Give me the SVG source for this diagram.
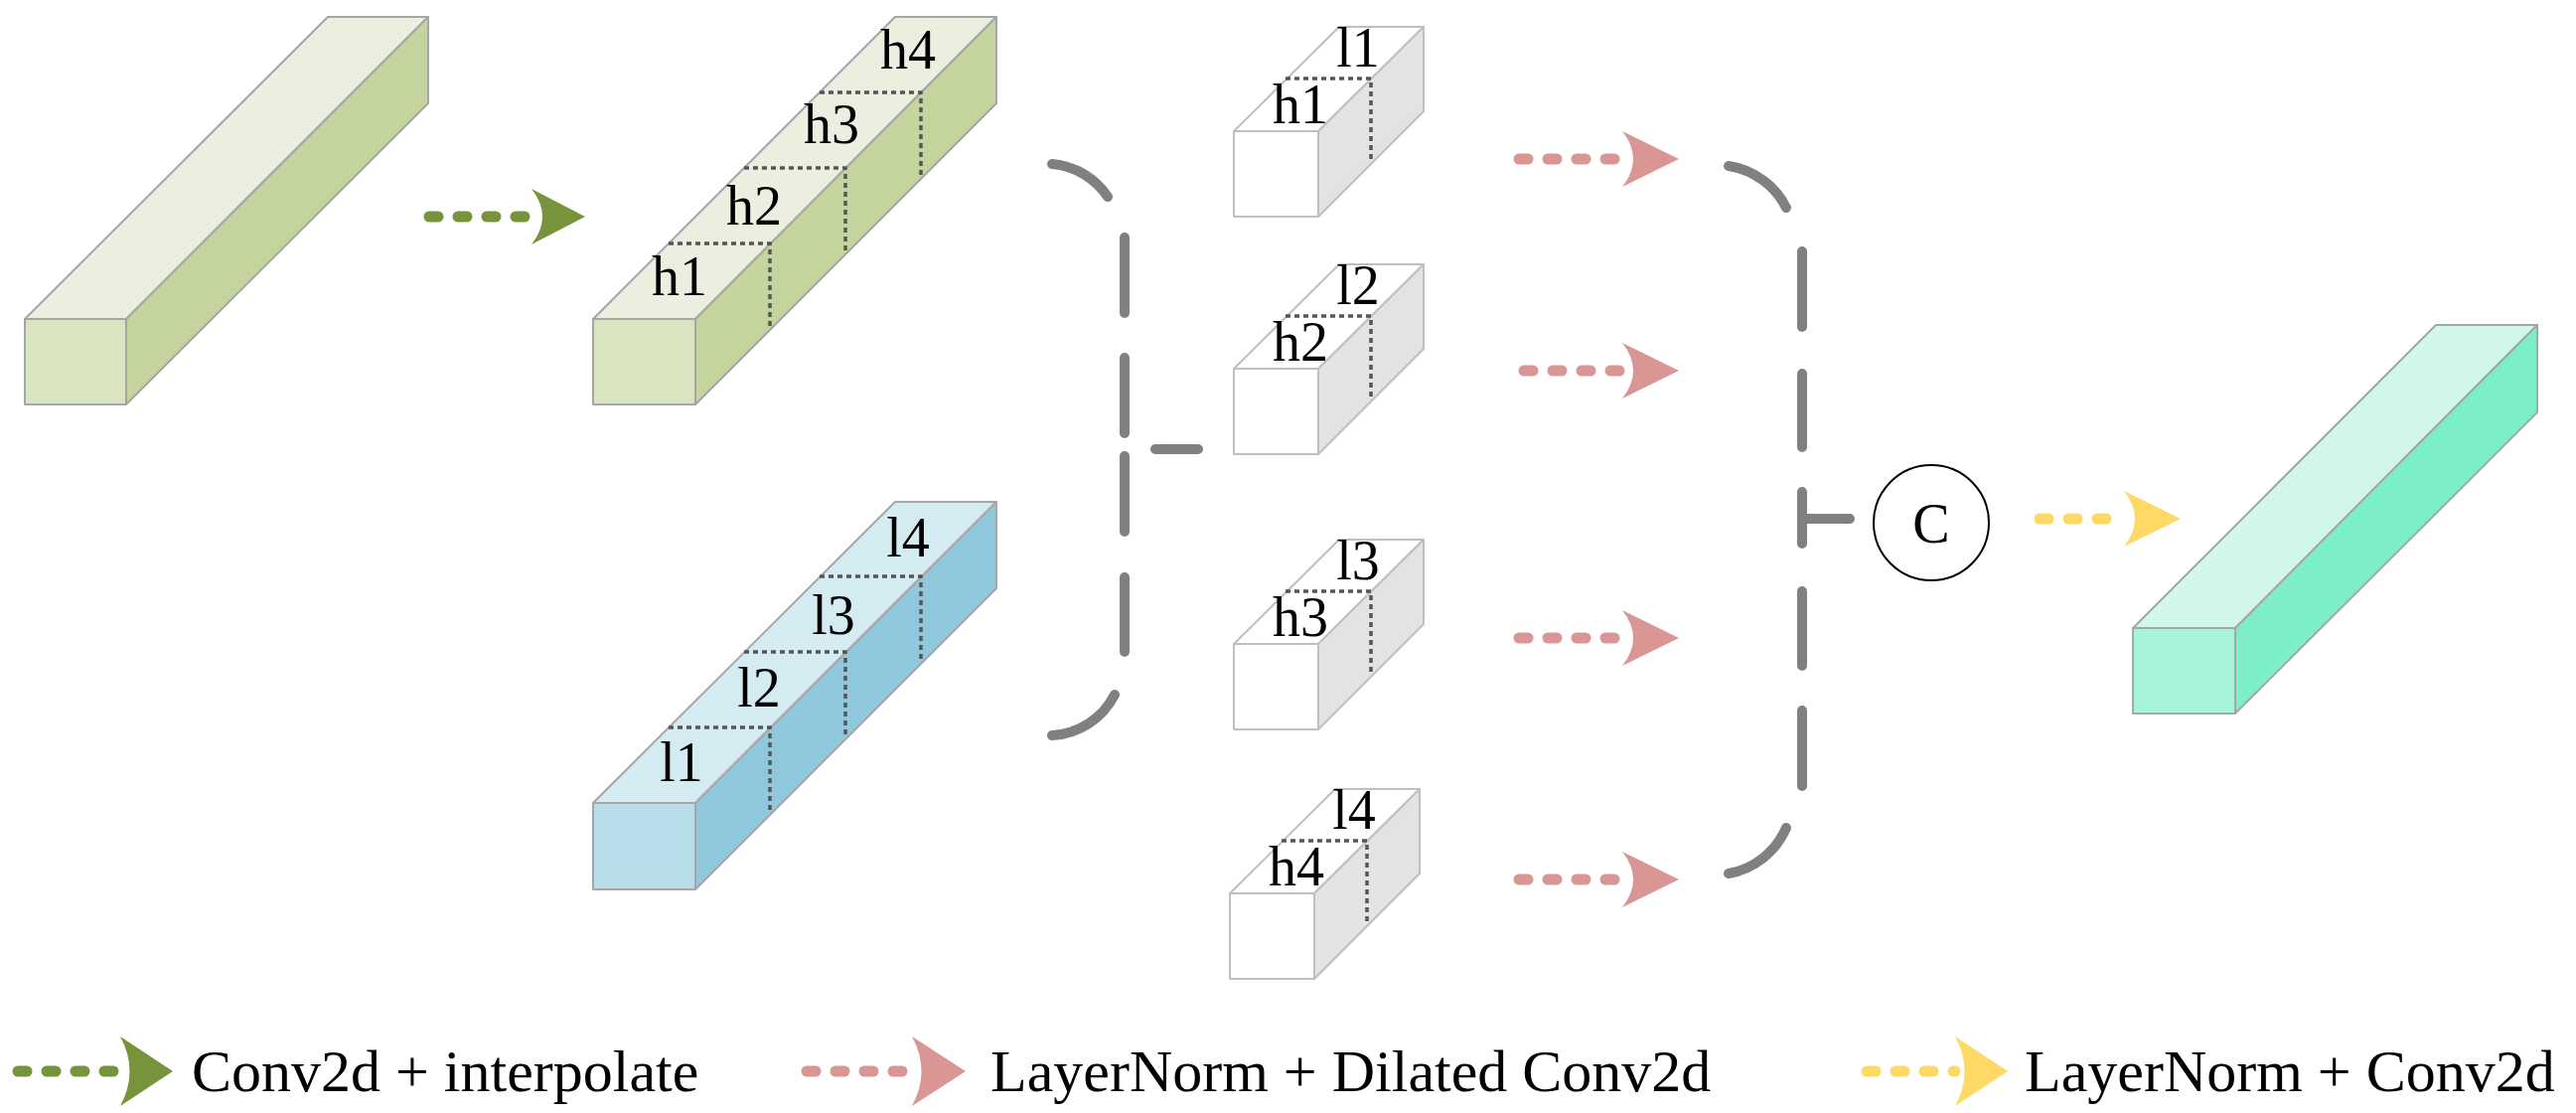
<svg xmlns="http://www.w3.org/2000/svg" width="2593" height="1120" viewBox="0 0 2593 1120">
<style>
.e{stroke:#a6a6a6;stroke-width:2;stroke-linejoin:round}
.c{stroke:#bfbfbf;stroke-width:2;stroke-linejoin:round}
.dv{stroke:#555;stroke-width:3.5;stroke-dasharray:5 4;fill:none}
.t{font-family:"Liberation Serif",serif;font-size:56px;fill:#000;text-anchor:middle}
.lg{font-family:"Liberation Serif",serif;font-size:60px;fill:#000}
.br{stroke:#808080;stroke-width:10;stroke-linecap:round;fill:none}
.dots{stroke-width:11;stroke-linecap:round;stroke-dasharray:9 20;fill:none}
</style>
<rect width="2593" height="1120" fill="#fff"/>
<g id="bar1">
<polygon class="e" fill="#ebefdf" points="25,321 127,321 431,17 330,17"/>
<polygon class="e" fill="#c3d49c" points="127,321 431,17 431,104 127,407"/>
<rect class="e" fill="#d9e4c0" x="25" y="321" width="102" height="86"/>
</g>
<g id="bar-h">
<polygon class="e" fill="#ebefdf" points="597,321 700,321 1003,17 901,17"/>
<polygon class="e" fill="#c3d49c" points="700,321 1003,17 1003,104 700,407"/>
<rect class="e" fill="#d9e4c0" x="597" y="321" width="103" height="86"/>
<path class="dv" d="M673,245H775V332M749,169H851V256M825,93H927V180"/>
<text class="t" x="684" y="297">h1</text>
<text class="t" x="759" y="226">h2</text>
<text class="t" x="837" y="144">h3</text>
<text class="t" x="914" y="69">h4</text>
</g>
<g id="bar-l">
<polygon class="e" fill="#d5ebf2" points="597,808 700,808 1003,505 901,505"/>
<polygon class="e" fill="#8fc8dc" points="700,808 1003,505 1003,592 700,895"/>
<rect class="e" fill="#b7dde8" x="597" y="808" width="103" height="87"/>
<path class="dv" d="M673,732H775V819M749,656H851V743M825,580H927V667"/>
<text class="t" x="686" y="786">l1</text>
<text class="t" x="764" y="711">l2</text>
<text class="t" x="839" y="638">l3</text>
<text class="t" x="914" y="560">l4</text>
</g>
<defs>
<g id="cube">
<polygon class="c" fill="#fff" points="0,0 85,0 191,-105 106,-105"/>
<polygon class="c" fill="#e3e3e3" points="85,0 191,-105 191,-20 85,86"/>
<rect class="c" fill="#fff" x="0" y="0" width="85" height="86"/>
<path class="dv" d="M52,-53H138V29"/>
</g>
</defs>
<g id="cube1"><use href="#cube" x="1242" y="132"/><text class="t" x="1367" y="67">l1</text><text class="t" x="1309" y="124">h1</text></g>
<g id="cube2"><use href="#cube" x="1242" y="371"/><text class="t" x="1367" y="306">l2</text><text class="t" x="1309" y="363">h2</text></g>
<g id="cube3"><use href="#cube" x="1242" y="648"/><text class="t" x="1367" y="583">l3</text><text class="t" x="1309" y="640">h3</text></g>
<g id="cube4"><use href="#cube" x="1238" y="899"/><text class="t" x="1363" y="834">l4</text><text class="t" x="1305" y="891">h4</text></g>
<g id="concat"><circle cx="1944" cy="526" r="58" fill="#fff" stroke="#000" stroke-width="2"/><text class="t" x="1944" y="546" font-size="60">C</text></g>
<g id="bar-out">
<polygon class="e" fill="#d0f7ea" points="2147,632 2250,632 2554,327 2452,327"/>
<polygon class="e" fill="#7ceec8" points="2250,632 2554,327 2554,415 2250,718"/>
<rect class="e" fill="#a6f4d9" x="2147" y="632" width="103" height="86"/>
</g>
<g id="connectors">
<path class="br" d="M1059,165A75,75 0 0 1 1115,198M1132,239V315M1132,360V436M1132,459V535M1132,581V656M1122,699A75,75 0 0 1 1059,740M1163,452H1206"/>
<path class="br" d="M1740,167A78,78 0 0 1 1798,209M1814,253V329M1814,376V450M1814,495V547M1814,522H1862M1814,595V670M1814,715V791M1798,833A78,78 0 0 1 1740,879"/>
<g stroke="#77933c" fill="#77933c"><path class="dots" d="M432,218H535"/><path stroke="none" d="M589,218L535,190Q557,218 535,246Z"/></g>
<g stroke="#d99694" fill="#d99694">
<path class="dots" d="M1529,160H1633"/><path stroke="none" d="M1690,160L1633,132Q1655,160 1633,188Z"/>
<path class="dots" d="M1534,373H1633"/><path stroke="none" d="M1690,373L1633,345Q1655,373 1633,401Z"/>
<path class="dots" d="M1529,642H1633"/><path stroke="none" d="M1690,642L1633,614Q1655,642 1633,670Z"/>
<path class="dots" d="M1529,885H1633"/><path stroke="none" d="M1690,885L1633,857Q1655,885 1633,913Z"/>
</g>
<g stroke="#ffd966" fill="#ffd966"><path class="dots" d="M2053,522H2138"/><path stroke="none" d="M2195,522L2138,494Q2160,522 2138,550Z"/></g>
</g>
<g id="legend">
<g stroke="#77933c" fill="#77933c"><path class="dots" d="M18,1078H121"/><path stroke="none" d="M174,1078L121,1043Q140,1078 121,1113Z"/></g>
<text class="lg" x="193" y="1098">Conv2d + interpolate</text>
<g stroke="#d99694" fill="#d99694"><path class="dots" d="M812,1078H918"/><path stroke="none" d="M972,1078L918,1043Q937,1078 918,1113Z"/></g>
<text class="lg" x="997" y="1098">LayerNorm + Dilated Conv2d</text>
<g stroke="#ffd966" fill="#ffd966"><path class="dots" d="M1879,1078H1968"/><path stroke="none" d="M2021,1078L1968,1043Q1987,1078 1968,1113Z"/></g>
<text class="lg" x="2038" y="1098">LayerNorm + Conv2d</text>
</g>
</svg>
